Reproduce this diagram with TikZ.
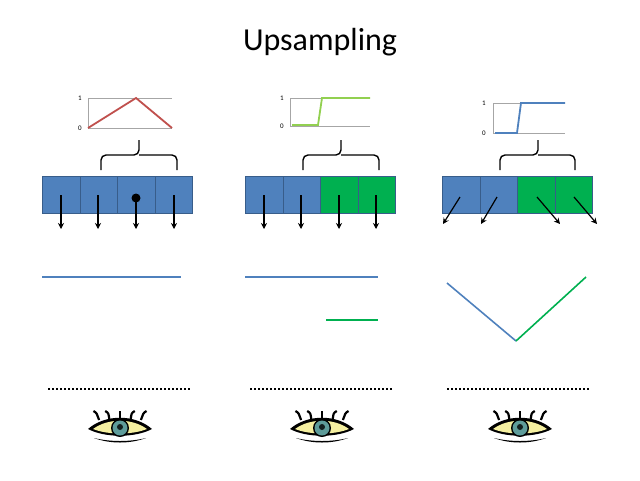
\documentclass[tikz,border=0pt]{standalone}
\usepackage{fontspec}
\setmainfont{Carlito}
\usetikzlibrary{arrows.meta}
\definecolor{cblue}{HTML}{4F81BD}
\definecolor{cbord}{HTML}{385D8A}
\definecolor{cgreen}{HTML}{00B050}
\definecolor{cred}{HTML}{C0504D}
\definecolor{clgreen}{HTML}{92D050}
\definecolor{eyey}{HTML}{F5F0A0}
\definecolor{iris}{HTML}{5E9C9A}
\tikzset{
 cell/.style={draw=cbord,line width=0.8pt,minimum width=37.5pt,minimum height=37pt,inner sep=0,anchor=north west},
 bc/.style={cell,fill=cblue}, gc/.style={cell,fill=cgreen},
 arr/.style={-{Stealth[length=6pt,width=6pt]},line width=1.2pt},
 brace/.style={line width=1.4pt,rounded corners=5pt},
 axis/.style={draw=gray!70,line width=0.5pt},
 tick/.style={font=\fontsize{7}{8}\selectfont},
 dots/.style={line width=2pt,dash pattern=on 2pt off 2pt},
 pics/eye/.style={code={
  \foreach \a in {-38,-19,0,19,38}{
   \draw[line width=2.2pt,rounded corners=1pt] ({\a*0.55},-8) -- ({\a*0.62},-15) -- ({\a*0.62+sign(\a)*3},-17);}
  \fill[black] (-32,1) .. controls (-15,-14) and (15,-14) .. (32,1) .. controls (15,10) and (-15,10) .. (-32,1);
  \fill[eyey] (-27,1) .. controls (-12,-10) and (12,-10) .. (27,1) .. controls (12,7) and (-12,7) .. (-27,1);
  \fill[black] (0,0) circle (9);
  \fill[iris] (0,0) circle (7.5);
  \fill[black!80!iris] (0,-1) circle (3);
  \fill[black] (-26,10) .. controls (-10,14) and (10,14) .. (26,10) .. controls (10,16) and (-10,16) .. (-26,10);
 }}
}
\begin{document}
\begin{tikzpicture}[x=1pt,y=-1pt]
\useasboundingbox (0,0) rectangle (640,480);
\node[font=\fontsize{32}{36}\selectfont] (title) at (320,42) {Upsampling};
% panel 1
\foreach \i in {0,1,2,3}{\node[bc] (a\i) at ({42+37.5*\i},176) {};}
\foreach \x/\n in {61/a0,98/a1,136/a2,174/a3}{\coordinate (s\n) at (\x,195); \coordinate (e\n) at (\x,229); \draw[arr] (s\n) -- (e\n);}
\fill (136,198) circle (4.5);
\draw[brace] (101,170) |- (139,155) -- (139,140) (139,155) -| (177,170);
\draw[axis] (88,128) -- (88,98) (88,98) -- (172,98) (88,128) -- (172,128);
\node[tick] at (80,98) {1}; \node[tick] at (80,128) {0};
\draw[cred,line width=1.8pt] (88,128) -- (136,98) -- (172,128);
\draw[cblue,line width=1.6pt] (42,277) -- (181,277);
\draw[dots] (48,389) -- (190,389);
\pic at (120,428) {eye};
% panel 2
\foreach \i/\s in {0/bc,1/bc,2/gc,3/gc}{\node[\s] (b\i) at ({245+37.5*\i},176) {};}
\foreach \x/\n in {264/b0,301/b1,339/b2,376/b3}{\coordinate (s\n) at (\x,195); \coordinate (e\n) at (\x,229); \draw[arr] (s\n) -- (e\n);}
\draw[brace] (303,170) |- (341,155) -- (341,140) (341,155) -| (379,170);
\draw[axis] (290,126) -- (290,98) (290,98) -- (370,98) (290,126) -- (370,126);
\node[tick] at (282,98) {1}; \node[tick] at (282,126) {0};
\draw[clgreen,line width=1.8pt] (292,125) -- (318,125) -- (322,98) -- (370,98);
\draw[cblue,line width=1.6pt] (245,277) -- (378,277);
\draw[cgreen,line width=1.6pt] (326,320) -- (378,320);
\draw[dots] (250,389) -- (392,389);
\pic at (322,428) {eye};
% panel 3
\foreach \i/\s in {0/bc,1/bc,2/gc,3/gc}{\node[\s] (c\i) at ({442+37.5*\i},176) {};}
\foreach \x/\y/\n in {460/443/c0,497/481/c1,537/560/c2,574/597/c3}{\coordinate (s\n) at (\x,197); \coordinate (e\n) at (\y,224); \draw[arr] (s\n) -- (e\n);}
\draw[brace] (500,170) |- (538,155) -- (538,140) (538,155) -| (575,170);
\draw[axis] (493,133) -- (493,103) (493,103) -- (565,103) (493,133) -- (565,133);
\node[tick] at (484,103) {1}; \node[tick] at (484,133) {0};
\draw[cblue,line width=1.8pt] (495,133) -- (517,133) -- (521,103) -- (565,103);
\draw[cblue,line width=1.6pt] (447,283) -- (516,341);
\draw[cgreen,line width=1.6pt] (516,341) -- (586,277);
\draw[dots] (447,389) -- (589,389);
\pic at (520,428) {eye};
\end{tikzpicture}
\end{document}
